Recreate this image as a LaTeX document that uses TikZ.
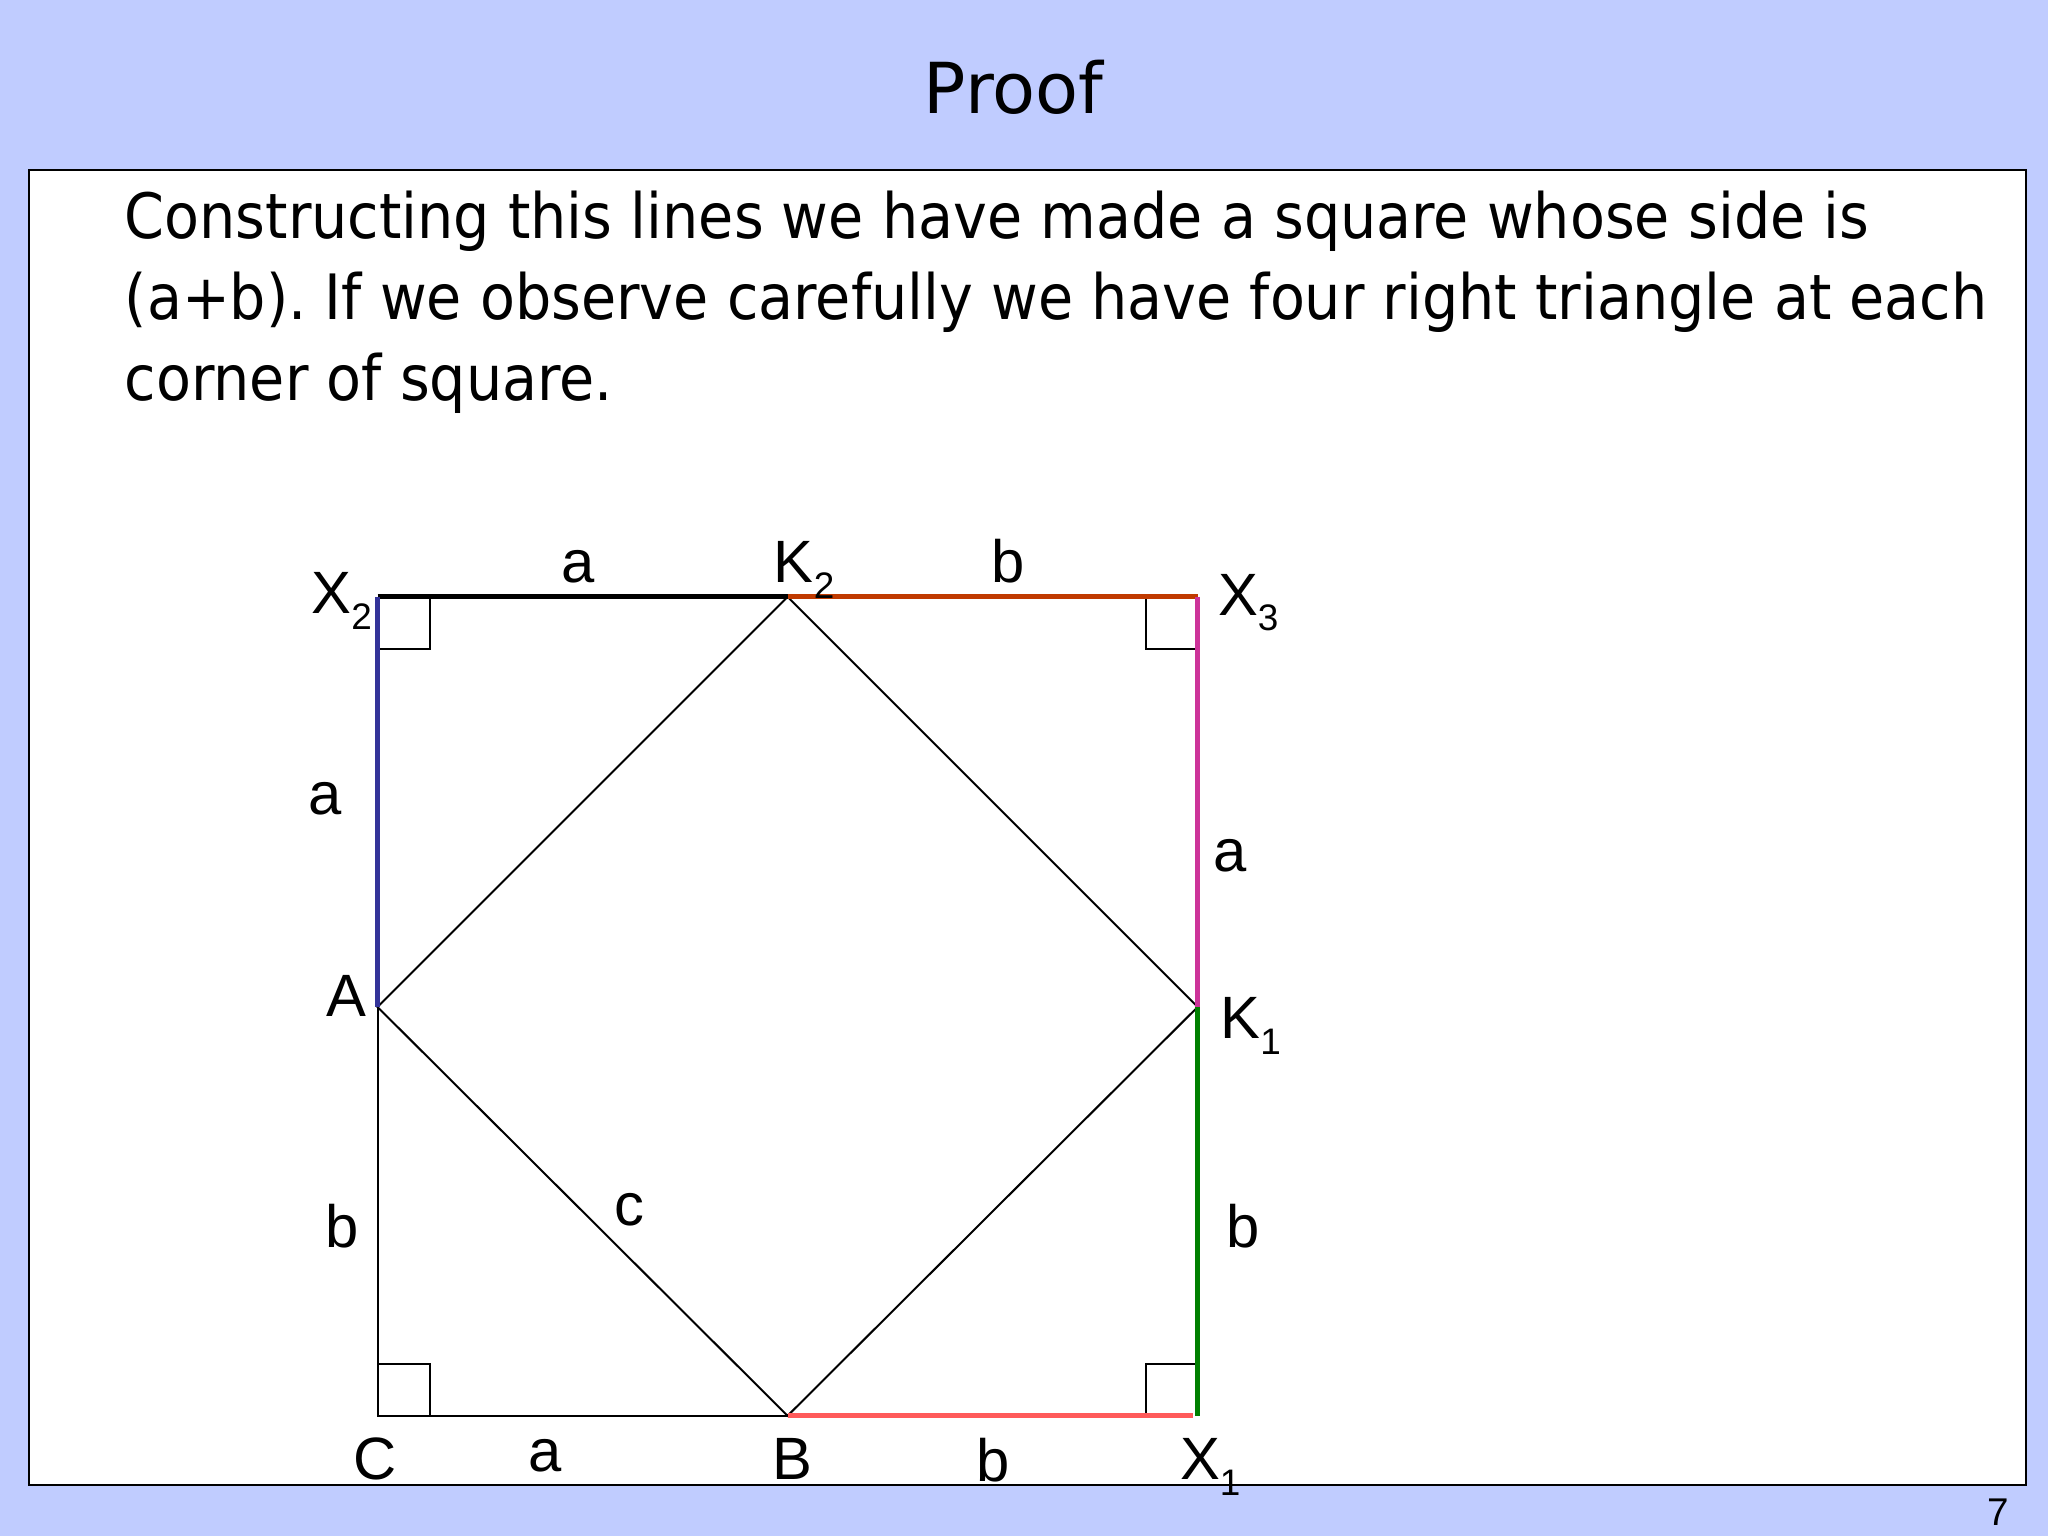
\documentclass[tikz,border=0pt]{standalone}
\usepackage{fontspec}
\setmainfont{Liberation Sans}
\newfontfamily\bodyfont[FakeStretch=0.914]{DejaVu Sans}
\newfontfamily\titlefont{DejaVu Sans}
\usepackage{tikz}
\usetikzlibrary{calc}

\definecolor{slidebg}{RGB}{192,204,255}
\definecolor{sideorange}{RGB}{192,58,0}
\definecolor{sidemagenta}{RGB}{204,51,153}
\definecolor{sidegreen}{RGB}{0,128,0}
\definecolor{sidered}{RGB}{255,90,90}
\definecolor{sideblue}{RGB}{51,51,153}

\newcommand{\lowidx}[1]{\raisebox{-4.5pt}{\fontsize{10.5}{11}\selectfont #1}}

\tikzset{
  side/.style={line width=0.05cm},
  thinline/.style={line width=0.02cm},
  lab/.style={inner sep=0pt, font=\fontsize{17}{20}\selectfont},
  bodytext/.style={inner sep=0pt, anchor=base west, font=\bodyfont\fontsize{17.8}{21}\selectfont}
}

\begin{document}
\frenchspacing
\begin{tikzpicture}
                        \useasboundingbox (0,0) rectangle (20.480000,15.360000);
                        \fill [slidebg] (0,0) rectangle (20.480000,15.360000);
                        % white frame
                        \draw [thinline, fill=white] (0.287000,0.510000) rectangle (20.256000,13.662000);%
                        \node (title) [inner sep=0pt, anchor=base, font=\titlefont\fontsize{20}{24}\selectfont] at (10.135000,14.224000) {Proof};%
                        \node (pagenum) [inner sep=0pt, anchor=base, font=\fontsize{11}{13}\selectfont] at (19.980000,0.105000) {7};%

                        % text lines
                        \node (txtA) [bodytext] at (1.240000,12.970000) {Constructing this lines we have made a square whose side is};%
                        \node (txtB) [bodytext] at (1.240000,12.160000) {(a+b). If we observe carefully we have four right triangle at each};%
                        \node (txtC) [bodytext] at (1.240000,11.350000) {corner of square.};%

                        % corners and points
                        \coordinate (X2) at (3.775000,9.391000);
                        \coordinate (X3) at (11.977000,9.391000);
                        \coordinate (X1) at (11.977000,1.202000);
                        \coordinate (C) at (3.775000,1.202000);
                        \coordinate (K2) at (7.876000,9.391000);
                        \coordinate (A) at (3.775000,5.290000);
                        \coordinate (K1) at (11.977000,5.290000);
                        \coordinate (B) at (7.876000,1.202000);

                        % Drawing the inner square c
                        \draw [thinline] (A) -- (K2) -- (K1) -- (B) -- cycle;%

                        % Drawing sides b and a at C
                        \draw [thinline] (A) -- (C) -- (B);%

                        % Marking right angles
                        \draw [thinline] ($(X2)+(0,-0.52)$) -- ++(0.52,0) -- ++(0,0.52);%
                        \draw [thinline] ($(X3)+(0,-0.52)$) -- ++(-0.52,0) -- ++(0,0.52);%
                        \draw [thinline] ($(C)+(0,0.52)$) -- ++(0.52,0) -- ++(0,-0.52);%
                        \draw [thinline] ($(X1)+(0,0.52)$) -- ++(-0.52,0) -- ++(0,-0.52);%

                        % Drawing coloured sides
                        \draw [side, black] (X2) -- (K2);%
                        \draw [side, sideorange] (K2) -- (X3);%
                        \draw [side, sidemagenta] (X3) -- (K1);%
                        \draw [side, sidegreen] (K1) -- (X1);%
                        \draw [side, sidered] (B) -- ($(X1)+(-0.05,0)$);%
                        \draw [side, sideblue] (X2) -- (A);%

                        % Point names
                        \node (labX2) [lab, anchor=base west] at (3.109000,9.221000) {X\lowidx{2}};%
                        \node (labK2) [lab, anchor=base west] at (7.732000,9.535000) {K\lowidx{2}};%
                        \node (labX3) [lab, anchor=base west] at (12.173000,9.208000) {X\lowidx{3}};%
                        \node (labA) [lab, anchor=base] at (3.461000,5.198000) {A};%
                        \node (labK1) [lab, anchor=base west] at (12.199000,4.976000) {K\lowidx{1}};%
                        \node (labC) [lab, anchor=base] at (3.749000,0.562000) {C};%
                        \node (labB) [lab, anchor=base] at (7.928000,0.562000) {B};%
                        \node (labX1) [lab, anchor=base west] at (11.794000,0.562000) {X\lowidx{1}};%

                        % Side names
                        \node (topa) [lab, anchor=base] at (5.786000,9.535000) {a};%
                        \node (topb) [lab, anchor=base] at (10.083000,9.535000) {b};%
                        \node (lefta) [lab, anchor=base] at (3.252000,7.210000) {a};%
                        \node (righta) [lab, anchor=base] at (12.304000,6.648000) {a};%
                        \node (leftb) [lab, anchor=base] at (3.422000,2.887000) {b};%
                        \node (rightb) [lab, anchor=base] at (12.434000,2.887000) {b};%
                        \node (hypc) [lab, anchor=base] at (6.296000,3.109000) {c};%
                        \node (bota) [lab, anchor=base] at (5.447000,0.640000) {a};%
                        \node (botb) [lab, anchor=base] at (9.927000,0.549000) {b};%
\end{tikzpicture}
\end{document}
